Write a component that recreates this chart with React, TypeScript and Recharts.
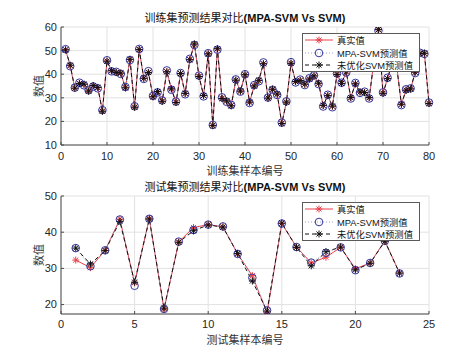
import React from "react";
import { LineChart, Line, XAxis, YAxis, CartesianGrid, Legend } from "recharts";

// 训练集 (80 samples)
const trainTrue = [
  50.4, 43.6, 34.0, 36.1, 35.7, 33.0, 35.1, 34.3, 24.4, 45.6,
  41.4, 40.8, 40.4, 34.3, 46.2, 26.1, 50.4, 38.2, 40.8, 30.5,
  32.6, 28.6, 41.1, 33.7, 28.1, 40.2, 31.8, 46.2, 52.7, 39.1,
  30.9, 48.7, 18.2, 50.7, 29.8, 28.6, 26.7, 37.4, 32.9, 39.7,
  28.1, 35.1, 37.3, 44.5, 29.8, 33.7, 31.5, 19.2, 28.1, 44.7,
  36.8, 37.4, 35.7, 38.0, 39.2, 36.1, 26.7, 31.0, 26.4, 40.0,
  36.0, 41.0, 30.0, 36.0, 32.4, 32.3, 30.0, 45.0, 58.8, 32.0,
  38.2, 45.0, 43.0, 27.2, 33.3, 33.7, 40.8, 48.8, 48.8, 27.7,
];
const trainMpa = [
  50.6, 43.4, 34.3, 36.4, 35.3, 33.2, 34.8, 34.0, 24.8, 45.9,
  41.2, 41.0, 40.1, 34.6, 46.0, 26.4, 50.7, 38.0, 41.3, 30.8,
  32.3, 28.9, 41.6, 33.4, 28.4, 40.5, 31.5, 46.5, 52.4, 39.4,
  30.6, 48.9, 18.5, 50.4, 30.2, 28.3, 27.0, 37.8, 32.6, 40.0,
  27.8, 35.4, 37.0, 45.0, 30.1, 33.4, 31.2, 19.5, 28.5, 45.1,
  36.5, 37.7, 35.4, 38.3, 39.5, 35.8, 26.3, 31.3, 26.0, 40.3,
  36.4, 40.7, 29.7, 36.3, 32.1, 32.6, 29.7, 45.3, 58.5, 32.3,
  38.5, 44.7, 43.3, 26.9, 33.6, 34.0, 40.5, 49.1, 48.6, 28.0,
];
const trainSvm = [
  50.3, 43.8, 34.1, 36.0, 35.8, 32.8, 35.2, 34.4, 24.3, 45.5,
  41.5, 40.7, 40.5, 34.2, 46.3, 26.0, 50.5, 38.3, 40.7, 30.4,
  32.7, 28.5, 41.0, 33.8, 28.0, 40.3, 31.9, 46.1, 52.8, 39.0,
  31.0, 48.6, 18.3, 50.8, 29.7, 28.7, 26.6, 37.5, 32.8, 39.8,
  28.2, 35.0, 37.4, 44.4, 29.9, 33.6, 31.6, 19.1, 28.2, 44.6,
  36.9, 37.3, 35.8, 37.9, 39.3, 36.2, 26.8, 30.9, 26.5, 39.9,
  36.1, 41.1, 30.1, 35.9, 32.5, 32.2, 30.1, 44.9, 58.9, 31.9,
  38.1, 45.1, 42.9, 27.3, 33.2, 33.8, 40.9, 48.7, 48.9, 27.6,
];

// 测试集 (23 samples)
const testTrue = [32.3, 30.2, 35.0, 43.6, 26.0, 43.8, 18.6, 37.3, 41.3, 42.1, 41.5, 34.0, 28.0, 17.7, 42.4, 35.9, 31.5, 33.1, 35.8, 29.9, 31.5, 37.6, 28.7];
const testMpa = [35.6, 30.6, 35.0, 43.5, 25.2, 43.7, 18.8, 37.4, 40.6, 42.1, 41.6, 34.0, 27.4, 18.4, 42.4, 35.9, 31.6, 34.3, 35.8, 29.5, 31.5, 37.6, 28.6];
const testSvm = [35.6, 31.2, 34.9, 43.0, 26.2, 43.6, 19.0, 37.2, 40.4, 42.0, 41.4, 34.1, 26.5, 18.2, 42.5, 35.8, 30.7, 34.6, 35.9, 29.6, 31.4, 37.5, 28.7];

const trainXTicks = [0, 10, 20, 30, 40, 50, 60, 70, 80];
const trainYTicks = [10, 20, 30, 40, 50, 60];
const testXTicks = [0, 5, 10, 15, 20, 25];
const testYTicks = [20, 30, 40, 50];

const seriesNames = ["真实值", "MPA-SVM预测值", "未优化SVM预测值"];

const RED = "#e8404a";
const BLUE = "#34379c";
const DOT_LINE = "#9aa0cc";
const BLACK = "#111111";
const AXIS = "#4a4a4a";
const FONT = "'Liberation Sans', Arial, 'Noto Sans CJK SC', sans-serif";

const toRows = (real: number[], mpa: number[], svm: number[]) =>
  real.map((v, i) => ({ idx: i + 1, real: v, mpa: mpa[i], svm: svm[i] }));

const trainData = toRows(trainTrue, trainMpa, trainSvm);
const testData = toRows(testTrue, testMpa, testSvm);

function Star({ cx, cy, color }: { cx: number; cy: number; color: string }) {
  const r = 3.5;
  const d = r * 0.72;
  return (
    <g stroke={color} strokeWidth={1}>
      <line x1={cx - r} y1={cy} x2={cx + r} y2={cy} />
      <line x1={cx} y1={cy - r} x2={cx} y2={cy + r} />
      <line x1={cx - d} y1={cy - d} x2={cx + d} y2={cy + d} />
      <line x1={cx - d} y1={cy + d} x2={cx + d} y2={cy - d} />
    </g>
  );
}

const redDot = (p: any) =>
  p.cx == null ? <g key={`r${p.index}`} /> : (
    <g key={`r${p.index}`}><Star cx={p.cx} cy={p.cy} color={RED} /></g>
  );
const blueDot = (p: any) =>
  p.cx == null ? <g key={`b${p.index}`} /> : (
    <circle key={`b${p.index}`} cx={p.cx} cy={p.cy} r={3.8} fill="none" stroke={BLUE} strokeWidth={1} />
  );
const blackDot = (p: any) =>
  p.cx == null ? <g key={`k${p.index}`} /> : (
    <g key={`k${p.index}`}><Star cx={p.cx} cy={p.cy} color={BLACK} /></g>
  );

function LegendBox() {
  const rows = [
    { name: seriesNames[0], color: RED, dash: undefined as string | undefined, marker: "star" },
    { name: seriesNames[1], color: DOT_LINE, dash: "1 2", marker: "circle" },
    { name: seriesNames[2], color: BLACK, dash: "4 3", marker: "kstar" },
  ];
  return (
    <div
      style={{
        width: 116,
        height: 37,
        border: "1px solid #5a5a5a",
        background: "#fff",
        fontFamily: FONT,
        fontSize: 9.3,
        color: "#111",
        paddingTop: 0,
      }}
    >
      {rows.map((r) => (
        <div key={r.name} style={{ height: 12.5, display: "flex", alignItems: "center", whiteSpace: "nowrap" }}>
          <svg width={33} height={10} style={{ flex: "none" }}>
            <line x1={2} y1={5} x2={30} y2={5} stroke={r.color} strokeWidth={1} strokeDasharray={r.dash} />
            {r.marker === "star" && <Star cx={16} cy={5} color={RED} />}
            {r.marker === "circle" && <circle cx={16} cy={5} r={3.8} fill="none" stroke={BLUE} />}
            {r.marker === "kstar" && <Star cx={16} cy={5} color={BLACK} />}
          </svg>
          <span style={{ marginLeft: 1 }}>{r.name}</span>
        </div>
      ))}
    </div>
  );
}

function Panel(props: {
  data: any[];
  height: number;
  top: number;
  xMax: number;
  xTicks: number[];
  yDomain: [number, number];
  yTicks: number[];
  marginTop: number;
  marginBottom: number;
  tickGap: number;
}) {
  const { data, height, xMax, xTicks, yDomain, yTicks, marginTop, marginBottom, tickGap } = props;
  return (
    <div style={{ position: "absolute", left: 0, top: props.top }}>
      <LineChart
        width={474}
        height={height}
        data={data}
        margin={{ top: marginTop, right: 45, bottom: marginBottom, left: 31 }}
      >
        <CartesianGrid stroke="#e2e2e2" strokeWidth={1} />
        <XAxis
          dataKey="idx"
          type="number"
          domain={[0, xMax]}
          ticks={xTicks}
          height={20}
          stroke={AXIS}
          tickSize={-3}
          tickMargin={tickGap}
          tick={{ fill: "#262626", fontSize: 11, fontFamily: FONT }}
          interval={0}
        />
        <XAxis
          xAxisId="top"
          dataKey="idx"
          type="number"
          orientation="top"
          domain={[0, xMax]}
          ticks={xTicks}
          height={0}
          stroke={AXIS}
          tick={false}
          tickLine={false}
        />
        <YAxis
          type="number"
          domain={yDomain}
          ticks={yTicks}
          width={30}
          stroke={AXIS}
          tickSize={-3}
          tickMargin={7}
          tick={{ fill: "#262626", fontSize: 11, fontFamily: FONT }}
          interval={0}
          allowDataOverflow
        />
        <YAxis
          yAxisId="right"
          orientation="right"
          type="number"
          domain={yDomain}
          ticks={yTicks}
          width={0}
          stroke={AXIS}
          tick={false}
          tickLine={false}
        />
        <Legend
          layout="horizontal"
          verticalAlign="middle"
          align="center"
          wrapperStyle={{ left: 302, top: marginTop + 6, width: 118 }}
          content={() => <LegendBox />}
        />
        <Line
          dataKey="real"
          name={seriesNames[0]}
          stroke={RED}
          strokeWidth={1}
          dot={redDot}
          isAnimationActive={false}
        />
        <Line
          dataKey="mpa"
          name={seriesNames[1]}
          stroke={DOT_LINE}
          strokeWidth={1}
          strokeDasharray="1 2"
          dot={blueDot}
          isAnimationActive={false}
        />
        <Line
          dataKey="svm"
          name={seriesNames[2]}
          stroke={BLACK}
          strokeWidth={1}
          strokeDasharray="4 3"
          dot={blackDot}
          isAnimationActive={false}
        />
      </LineChart>
    </div>
  );
}

const textBase: React.CSSProperties = {
  position: "absolute",
  fontFamily: FONT,
  whiteSpace: "nowrap",
  lineHeight: "14px",
  transform: "translate(-50%, -50%)",
};

function Title({ cn, en, y }: { cn: string; en: string; y: number }) {
  return (
    <div style={{ ...textBase, left: 245, top: y, fontSize: 11, color: "#111" }}>
      <span>{cn}</span>
      <span style={{ fontWeight: "bold" }}>{en}</span>
    </div>
  );
}

export default function App() {
  return (
    <div style={{ position: "absolute", left: 0, top: 0, width: 474, height: 355, background: "#fff", overflow: "hidden" }}>
      <Panel
        data={trainData}
        height={175}
        top={0}
        xMax={80}
        xTicks={trainXTicks}
        yDomain={[10, 60]}
        yTicks={trainYTicks}
        marginTop={27}
        marginBottom={10}
        tickGap={10}
      />
      <Panel
        data={testData}
        height={180}
        top={175}
        xMax={25}
        xTicks={testXTicks}
        yDomain={[17.4, 50]}
        yTicks={testYTicks}
        marginTop={21}
        marginBottom={21}
        tickGap={9}
      />
      <Title cn="训练集预测结果对比" en="(MPA-SVM Vs SVM)" y={18} />
      <Title cn="测试集预测结果对比" en="(MPA-SVM Vs SVM)" y={187} />
      <div style={{ ...textBase, left: 245, top: 171, fontSize: 11, color: "#333" }}>训练集样本编号</div>
      <div style={{ ...textBase, left: 245, top: 340, fontSize: 11, color: "#333" }}>测试集样本编号</div>
      <div style={{ ...textBase, left: 39, top: 86, fontSize: 11, color: "#333", transform: "translate(-50%, -50%) rotate(-90deg)" }}>数值</div>
      <div style={{ ...textBase, left: 39, top: 255, fontSize: 11, color: "#333", transform: "translate(-50%, -50%) rotate(-90deg)" }}>数值</div>
    </div>
  );
}
